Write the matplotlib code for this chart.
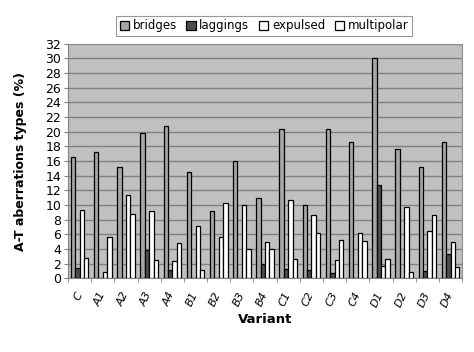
import matplotlib
matplotlib.use("Agg")
import matplotlib.pyplot as plt
import numpy as np

categories = ["C", "A1", "A2", "A3", "A4", "B1", "B2", "B3", "B4",
              "C1", "C2", "C3", "C4", "D1", "D2", "D3", "D4"]
bridges = [16.6, 17.3, 15.2, 19.8, 20.8, 14.5, 9.2, 16.0, 11.0,
           20.3, 10.0, 20.4, 18.6, 30.0, 17.6, 15.2, 18.6]
laggings = [1.4, 0.0, 0.0, 3.9, 1.2, 0.0, 0.0, 0.0, 1.9,
            1.3, 1.2, 0.8, 0.0, 12.7, 0.0, 1.0, 3.3]
expulsed = [9.3, 0.9, 11.4, 9.2, 2.4, 7.2, 5.7, 10.0, 4.9,
            10.7, 8.7, 2.5, 6.2, 1.7, 9.8, 6.5, 5.0]
multipolar = [2.8, 5.7, 8.8, 2.5, 4.8, 1.1, 10.3, 4.0, 4.0,
              2.6, 6.2, 5.3, 5.1, 2.6, 0.9, 8.7, 1.6]
series_names = ["bridges", "laggings", "expulsed", "multipolar"]
colors = ["#a6a6a6", "#4d4d4d", "#ffffff", "#ffffff"]

fig = plt.figure(figsize=(4.74, 3.52), dpi=100)
ax = fig.add_axes([0.1435, 0.209, 0.8315, 0.667])
ax.set_facecolor("#c0c0c0")

x = np.arange(len(categories))
w = 0.19
series = [bridges, laggings, expulsed, multipolar]
for i, (name, vals, c) in enumerate(zip(series_names, series, colors)):
    ax.bar(x + (i - 1.5) * w, vals, width=w, color=c, edgecolor="black",
           linewidth=0.9, label=name, zorder=3)

ax.set_xlim(-0.5, len(categories) - 0.5)
ax.set_ylim(0, 32)
ax.set_yticks(np.arange(0, 33, 2))
ax.yaxis.grid(True, color="#808080", linewidth=1.0, zorder=0)
ax.set_axisbelow(True)

ax.set_xticks(x)
ax.set_xticklabels(categories, rotation=65, style="italic", fontsize=8,
                   ha="right", va="center", rotation_mode="anchor")
ax.set_xticks(np.arange(-0.5, len(categories), 1), minor=True)
ax.tick_params(axis="x", which="major", length=0, pad=10)
ax.tick_params(axis="x", which="minor", length=3, color="#808080")
ax.tick_params(axis="y", length=3, color="#808080", labelsize=9, pad=2)

for s in ["top", "right"]:
    ax.spines[s].set_color("#909090")
ax.spines["left"].set_color("#808080")
ax.spines["bottom"].set_color("#808080")

ax.set_ylabel("A-T aberrations types (%)", fontsize=9, fontweight="bold", labelpad=13)
ax.set_xlabel("Variant", fontsize=9.5, fontweight="bold", labelpad=3)

leg = fig.legend(loc="center", bbox_to_anchor=(264 / 474, 1 - 26 / 352), ncol=4,
                 fontsize=8.5, frameon=True, fancybox=False, edgecolor="#808080",
                 handlelength=0.8, handleheight=0.8, handletextpad=0.3,
                 columnspacing=0.8, borderpad=0.3)
leg.get_frame().set_linewidth(0.8)

fig.savefig("out.png", dpi=100)
